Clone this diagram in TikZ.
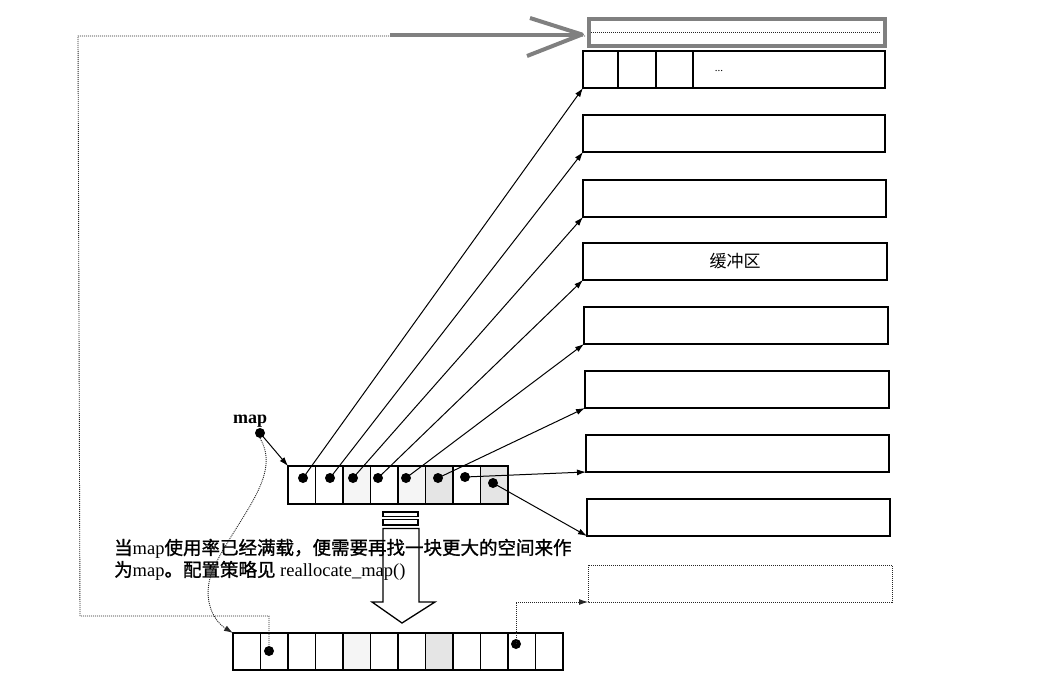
\documentclass[tikz,border=0pt]{standalone}
\usepackage{fontspec}
\setmainfont{Liberation Serif}
\newfontfamily\cjk{Noto Sans CJK SC}
\newfontfamily\cjkb[FakeBold=1.2]{Noto Sans CJK SC}
\usetikzlibrary{arrows.meta}
\begin{document}
\begin{tikzpicture}[x=1pt,y=-1pt,
  buf/.style={draw, line width=1.2pt, minimum width=#1, minimum height=37pt, anchor=north west, inner sep=0pt, outer sep=0pt},
  cellbox/.style={draw, line width=1.2pt, minimum width=27.5pt, minimum height=38pt, anchor=north west, inner sep=0pt, outer sep=0pt},
  dot/.style={circle, fill=black, inner sep=0pt, minimum size=10pt},
  tipA/.style={-{Latex[length=9pt,width=6pt]}},
  ptr/.style={tipA, line width=1pt},
  dotline/.style={draw=black!85, line width=0.9pt, dash pattern=on 1pt off 1pt},
  txt/.style={font=\fontsize{18.5pt}{22pt}\selectfont, inner sep=0pt, anchor=base west}
]
\useasboundingbox (0,0) rectangle (1055,696);

% top grey box and grey arrow
\node[draw=black!50, line width=4pt, minimum width=296pt, minimum height=27pt, anchor=north west, inner sep=0pt] (topbox) at (587,17) {};
\draw[dotline] (591,32) -- (880,32);

% buffers
\node[buf=302pt] (b1) at (583,51) {};
\node[buf=302pt] (b2) at (583,115) {};
\node[buf=303pt] (b3) at (583,180) {};
\node[buf=304pt, font=\cjk\fontsize{17pt}{17pt}\selectfont] (b4) at (583,243) {缓冲区};
\node[buf=304pt] (b5) at (584,307) {};
\node[buf=304pt] (b6) at (585,371) {};
\node[buf=303pt] (b7) at (586,435) {};
\node[buf=303pt] (b8) at (587,499) {};
\node[buf=304pt, draw=none] (b9) at (588,565) {};
\draw[dotline] (b9.north west) rectangle (b9.south east);
\draw[line width=1.2pt] (618,51) -- (618,88) (656,51) -- (656,88) (693,51) -- (693,88);
\node[font=\fontsize{11pt}{11pt}\selectfont, inner sep=0pt] (dots) at (719,71) {...};

% map array
\foreach \i in {1,...,8} \node[cellbox] (m\i) at ({288+27.5*(\i-1)},466) {};
\fill[black!10] (m6.north west) rectangle (m6.south east);
\fill[black!10] (m8.north west) rectangle (m8.south east);
\fill[black!4] (m3.north west) rectangle (m3.south east);
\fill[black!4] (m5.north west) rectangle (m5.south east);
\foreach \i in {1,...,8} \draw[line width=1.2pt] (m\i.north west) rectangle (m\i.south east);

\node[dot] (d1) at (303,478) {};
\node[dot] (d2) at (330,478) {};
\node[dot] (d3) at (353,478) {};
\node[dot] (d4) at (378,478) {};
\node[dot] (d5) at (406,478) {};
\node[dot] (d6) at (438,478) {};
\node[dot] (d7) at (465,477) {};
\node[dot] (d8) at (493,483) {};
\foreach \i in {1,...,8} \draw[ptr] (d\i.center) -- (b\i.south west);

% map label
\node[font=\bfseries\fontsize{18pt}{18pt}\selectfont, inner sep=0pt, anchor=base west] (maplbl) at (233,423) {map};
\node[dot] (mapdot) at (260,433) {};
\draw[ptr] (mapdot.center) -- (m1.north west);

% new map array
\foreach \i in {1,...,12} \node[cellbox, minimum height=37pt] (n\i) at ({233+27.5*(\i-1)},633) {};
\fill[black!10] (n8.north west) rectangle (n8.south east);
\fill[black!4] (n5.north west) rectangle (n5.south east);
\foreach \i in {1,...,12} \draw[line width=1.2pt] (n\i.north west) rectangle (n\i.south east);
\node[dot] (e2) at (269,651) {};
\node[dot] (e11) at (516,644) {};

% dotted connections
\draw[dotline, tipA] (mapdot.south) .. controls (282,475) and (240,515) .. (215,565) .. controls (200,595) and (212,620) .. (n1.north west);
\coordinate (q1) at (269,616);
\coordinate (q2) at (80,616);
\coordinate (q3) at (78,36);
\coordinate (q4) at (585,36);
\draw[dotline] (e2.center) -- (q1) -- (q2) -- (q3) -- (q4);
\draw[dotline, tipA] (e11.center) |- (b9.south west);

% grey arrow
\draw[black!50, line width=4pt] (390,35) -- (581,35);
\draw[black!50, line width=4pt, line join=round] (530,18) -- (582,34.5) -- (527,56);

% hollow arrow
\draw[line width=1.2pt] (383,512) rectangle (418,516.5);
\draw[line width=1.2pt] (383,519.5) rectangle (418,525);
\draw[line width=1.3pt, line join=miter] (383,528.5) -- (419,528.5) -- (419,602) -- (435,602) -- (402,623) -- (372,602) -- (383,602) -- cycle;

% text
\node[txt] (t1) at (114,554.5) {{\cjkb 当}map{\cjkb 使用率已经满载，便需要再找一块更大的空间来作}};
\node[txt] (t2) at (114,576.5) {{\cjkb 为}map{\cjkb 。配置策略见} reallocate\_map()};
\end{tikzpicture}
\end{document}
